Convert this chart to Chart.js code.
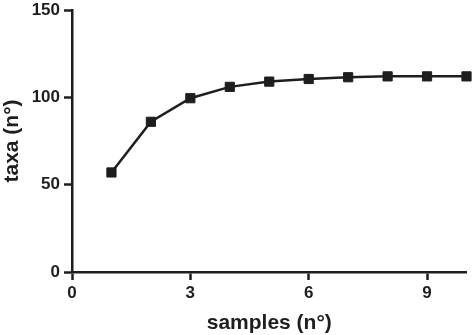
<!DOCTYPE html>
<html>
<head>
<meta charset="utf-8">
<script src="https://cdn.jsdelivr.net/npm/chart.js@4/dist/chart.umd.min.js"></script>
<style>
  html, body { margin: 0; padding: 0; background: #fff; }
  #wrap { width: 474px; height: 335px; position: relative; }
</style>
</head>
<body>
<div id="wrap"><canvas id="c"></canvas></div>
<script>
// Species accumulation: cumulative taxa per number of samples
const samples = [1, 2, 3, 4, 5, 6, 7, 8, 9, 10];
const taxa = [57, 86, 99.5, 106, 109, 110.5, 111.5, 112, 112, 112];
const xTicks = [0, 3, 6, 9];
const yTicks = [0, 50, 100, 150];

const ink = '#1e1e1e';
const fontFamily = '"Liberation Sans", Arial, Helvetica, sans-serif';

const points = samples.map((s, i) => ({ x: s, y: taxa[i] }));

const axisBase = {
  grid: {
    display: true,
    drawOnChartArea: false,
    drawTicks: true,
    tickLength: 8,
    tickWidth: 2.5,
    tickColor: ink
  },
  border: { display: true, color: ink, width: 2.5 }
};

new Chart(document.getElementById('c'), {
  type: 'line',
  data: {
    datasets: [{
      data: points,
      borderColor: ink,
      borderWidth: 2.5,
      backgroundColor: ink,
      pointStyle: 'rect',
      pointRadius: 6.5,
      pointBorderWidth: 1,
      pointBackgroundColor: ink,
      pointBorderColor: ink,
      tension: 0,
      fill: false,
      clip: false
    }]
  },
  options: {
    responsive: true,
    maintainAspectRatio: false,
    animation: false,
    layout: { padding: { top: 10, right: 5, left: 0, bottom: 0 } },
    plugins: { legend: { display: false }, tooltip: { enabled: false } },
    scales: {
      x: {
        ...axisBase,
        type: 'linear',
        min: 0,
        max: 10,
        afterBuildTicks: (axis) => { axis.ticks = xTicks.map(v => ({ value: v })); },
        afterFit: (s) => { s.height = 63; },
        ticks: {
          color: ink,
          padding: 5,
          font: { family: fontFamily, size: 17, weight: 'bold', lineHeight: 1.0 }
        },
        title: {
          display: true,
          text: 'samples (n°)',
          color: ink,
          padding: 0,
          font: { family: fontFamily, size: 21, weight: 'bold', lineHeight: 1.1 }
        }
      },
      y: {
        ...axisBase,
        type: 'linear',
        min: 0,
        max: 150,
        afterBuildTicks: (axis) => { axis.ticks = yTicks.map(v => ({ value: v })); },
        afterFit: (s) => { s.width = 72; },
        ticks: {
          color: ink,
          padding: 4,
          font: { family: fontFamily, size: 17, weight: 'bold', lineHeight: 0.6 }
        },
        title: {
          display: true,
          text: 'taxa (n°)',
          color: ink,
          padding: 0,
          font: { family: fontFamily, size: 21, weight: 'bold', lineHeight: 1.2 }
        }
      }
    }
  }
});
</script>
</body>
</html>
